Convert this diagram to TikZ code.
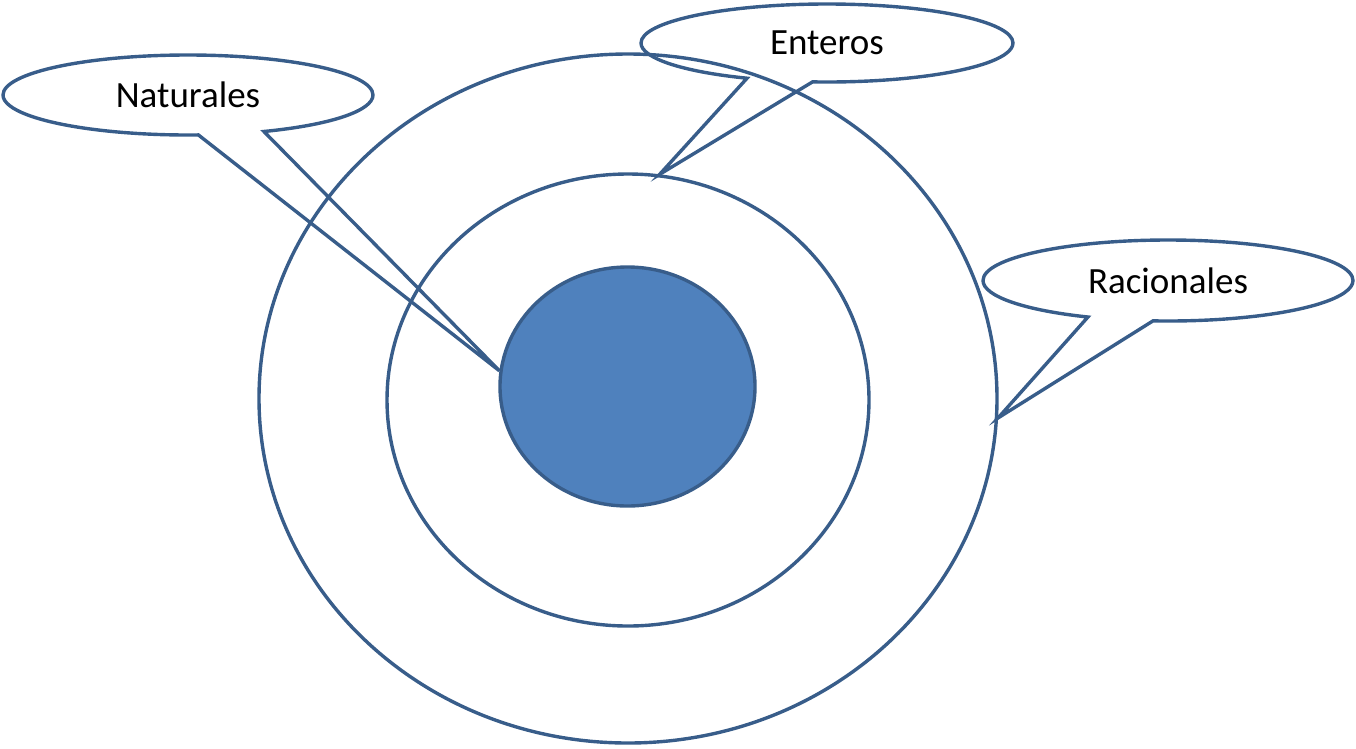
\documentclass[tikz,border=0pt]{standalone}
\usepackage{fontspec}
\setmainfont{Carlito}
\usetikzlibrary{shapes.geometric,shapes.callouts}
\definecolor{setline}{HTML}{385D8A}
\definecolor{setfill}{HTML}{4F81BD}

\begin{document}
\begin{tikzpicture}[x=1pt, y=-1pt,
    ring/.style={ellipse, draw=setline, line width=3.4pt, inner sep=0pt},
    bubble/.style={ellipse callout, draw=setline, line width=3.4pt, inner sep=0pt,
        callout pointer arc=21, font=\fontsize{37}{44}\selectfont}]
    \useasboundingbox (0,0) rectangle (1356,748);

    \node [ring, minimum width=738pt, minimum height=689pt] (qset) at (628,398.5) {};
    \node [ring, minimum width=482pt, minimum height=452pt] (zset) at (628,400) {};
    \node [ring, fill=setfill, minimum width=255pt, minimum height=239pt] (nset) at (627.5,386.5) {};

    \node [bubble, minimum width=370pt, minimum height=80pt,
        callout absolute pointer={(nset.173.5)}] (nlabel) at (188,95) {Naturales};
    \node [bubble, minimum width=372pt, minimum height=78pt,
        callout absolute pointer={(zset.82.6)}] (zlabel) at (827,43) {Enteros};
    \node [bubble, minimum width=370pt, minimum height=81pt,
        callout absolute pointer={(qset.-3)}] (qlabel) at (1168,280.5) {Racionales};
\end{tikzpicture}
\end{document}
